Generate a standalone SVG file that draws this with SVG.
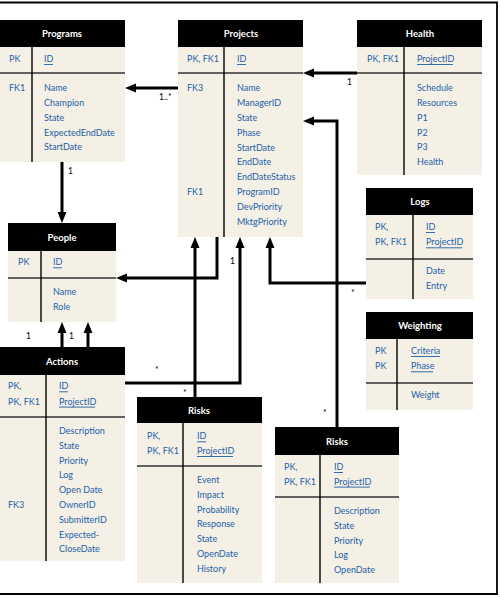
<svg xmlns="http://www.w3.org/2000/svg" width="500" height="597" viewBox="0 0 500 597">
<style>
.hd{fill:#000}
.bd{fill:#f4f0e5}
.hdt{font-family:Lato,"Liberation Sans",sans-serif;font-weight:bold;font-size:9.5px;fill:#fff;text-anchor:middle}
.t{font-family:Lato,"Liberation Sans",sans-serif;font-size:9px;fill:#1f5fa8}
.u{stroke:#1f5fa8;stroke-width:0.9}
.hr{stroke:#333;stroke-width:1.6}
.vr{stroke:#000;stroke-width:1.4}
.c{fill:none;stroke:#000;stroke-width:3}
.ca{fill:none;stroke:#000;stroke-width:3;marker-end:url(#ah)}
.lb{font-family:Lato,"Liberation Sans",sans-serif;font-size:8.5px;fill:#000}
</style>
<defs>
<marker id="ah" markerUnits="userSpaceOnUse" markerWidth="12" markerHeight="12" refX="0" refY="5" orient="auto" viewBox="0 0 12 10">
<path d="M0,0.5 L11,5 L0,9.5 z" fill="#000"/>
</marker>
</defs>
<rect x="0" y="0" width="500" height="597" fill="#fff"/>
<path d="M0,2.5 H497 V594 H0" fill="none" stroke="#000" stroke-width="1.8"/>

<g id="connectors">
<path class="ca" d="M178,88 H136"/>
<text class="lb" x="159" y="100">1..*</text>
<path class="ca" d="M357,73 H314"/>
<text class="lb" x="347" y="85">1</text>
<path class="ca" d="M62,162 V212"/>
<text class="lb" x="68" y="174">1</text>
<path class="ca" d="M366,283 H270 V248"/>
<text class="lb" x="351" y="296">*</text>
<path class="ca" d="M337,427 V121 H314"/>
<text class="lb" x="323" y="416">*</text>
<path class="ca" d="M217,237 V278 H127"/>
<path class="ca" d="M62,348 V333"/>
<path class="ca" d="M88,348 V333"/>
<text class="lb" x="26" y="339">1</text>
<text class="lb" x="69" y="339">1</text>
<path class="ca" d="M125,383 H240 V248"/>
<text class="lb" x="230" y="264">1</text>
<text class="lb" x="155" y="373">*</text>
<path class="ca" d="M195,397 V248"/>
<text class="lb" x="183" y="396">*</text>
</g>

<g id="programs">
<rect class="bd" x="0" y="47" width="125" height="115"/>
<rect class="hd" x="0" y="20" width="125" height="27"/>
<text class="hdt" x="62" y="37">Programs</text>
<line class="hr" x1="0" y1="73" x2="125" y2="73"/>
<line class="vr" x1="32" y1="47" x2="32" y2="162"/>
<text class="t" x="9" y="62">PK</text>
<text class="t" x="44" y="62">ID</text><line class="u" x1="44" y1="64.5" x2="53" y2="64.5"/>
<text class="t" x="9" y="91">FK1</text>
<text class="t" x="44" y="91">Name</text>
<text class="t" x="44" y="105.7">Champion</text>
<text class="t" x="44" y="120.6">State</text>
<text class="t" x="44" y="135.5">ExpectedEndDate</text>
<text class="t" x="44" y="150">StartDate</text>
</g>

<g id="projects">
<rect class="bd" x="178" y="47" width="125" height="190"/>
<rect class="hd" x="178" y="20" width="125" height="27"/>
<text class="hdt" x="241" y="37">Projects</text>
<line class="hr" x1="178" y1="73" x2="303" y2="73"/>
<line class="vr" x1="224" y1="47" x2="224" y2="237"/>
<text class="t" x="187" y="62">PK, FK1</text>
<text class="t" x="237" y="62">ID</text><line class="u" x1="237" y1="64.5" x2="246" y2="64.5"/>
<text class="t" x="187" y="91">FK3</text>
<text class="t" x="187" y="195">FK1</text>
<text class="t" x="237" y="91">Name</text>
<text class="t" x="237" y="106">ManagerID</text>
<text class="t" x="237" y="121">State</text>
<text class="t" x="237" y="135.8">Phase</text>
<text class="t" x="237" y="150.5">StartDate</text>
<text class="t" x="237" y="165.3">EndDate</text>
<text class="t" x="237" y="180.2">EndDateStatus</text>
<text class="t" x="237" y="195">ProgramID</text>
<text class="t" x="237" y="209.7">DevPriority</text>
<text class="t" x="237" y="224.6">MktgPriority</text>
</g>

<g id="health">
<rect class="bd" x="357" y="47" width="125" height="128"/>
<rect class="hd" x="357" y="20" width="125" height="27"/>
<text class="hdt" x="420" y="37">Health</text>
<line class="hr" x1="357" y1="73" x2="482" y2="73"/>
<line class="vr" x1="404" y1="47" x2="404" y2="175"/>
<text class="t" x="367" y="62">PK, FK1</text>
<text class="t" x="417" y="62">ProjectID</text><line class="u" x1="417" y1="64.5" x2="453" y2="64.5"/>
<text class="t" x="417" y="91">Schedule</text>
<text class="t" x="417" y="106">Resources</text>
<text class="t" x="417" y="121">P1</text>
<text class="t" x="417" y="135.6">P2</text>
<text class="t" x="417" y="150.3">P3</text>
<text class="t" x="417" y="165.3">Health</text>
</g>

<g id="logs">
<rect class="bd" x="366" y="215" width="107" height="84"/>
<rect class="hd" x="366" y="188" width="107" height="27"/>
<text class="hdt" x="420" y="205">Logs</text>
<line class="hr" x1="366" y1="259" x2="473" y2="259"/>
<line class="vr" x1="413" y1="215" x2="413" y2="299"/>
<text class="t" x="375" y="230">PK,</text>
<text class="t" x="375" y="245.3">PK, FK1</text>
<text class="t" x="426" y="230">ID</text><line class="u" x1="426" y1="232.5" x2="435" y2="232.5"/>
<text class="t" x="426" y="245.3">ProjectID</text><line class="u" x1="426" y1="247.8" x2="462" y2="247.8"/>
<text class="t" x="426" y="274">Date</text>
<text class="t" x="426" y="289.3">Entry</text>
</g>

<g id="weighting">
<rect class="bd" x="366" y="339" width="107" height="71"/>
<rect class="hd" x="366" y="312" width="107" height="27"/>
<text class="hdt" x="420" y="329">Weighting</text>
<line class="hr" x1="366" y1="383" x2="473" y2="383"/>
<line class="vr" x1="397" y1="339" x2="397" y2="410"/>
<text class="t" x="375" y="354">PK</text>
<text class="t" x="375" y="369.3">PK</text>
<text class="t" x="411" y="354">Criteria</text><line class="u" x1="411" y1="356.5" x2="440" y2="356.5"/>
<text class="t" x="411" y="369.3">Phase</text><line class="u" x1="411" y1="371.8" x2="433" y2="371.8"/>
<text class="t" x="411" y="398.3">Weight</text>
</g>

<g id="people">
<rect class="bd" x="8" y="251" width="108" height="71"/>
<rect class="hd" x="8" y="223" width="108" height="28"/>
<text class="hdt" x="62" y="240.5">People</text>
<line class="hr" x1="8" y1="278" x2="116" y2="278"/>
<line class="vr" x1="41" y1="251" x2="41" y2="322"/>
<text class="t" x="18" y="265.3">PK</text>
<text class="t" x="53" y="265.3">ID</text><line class="u" x1="53" y1="267.8" x2="62" y2="267.8"/>
<text class="t" x="53" y="295.3">Name</text>
<text class="t" x="53" y="310">Role</text>
</g>

<g id="actions">
<rect class="bd" x="0" y="375" width="125" height="186"/>
<rect class="hd" x="0" y="347" width="125" height="28"/>
<text class="hdt" x="62" y="364.5">Actions</text>
<line class="hr" x1="0" y1="417" x2="125" y2="417"/>
<line class="vr" x1="46" y1="375" x2="46" y2="561"/>
<text class="t" x="8" y="389.3">PK,</text>
<text class="t" x="8" y="404.6">PK, FK1</text>
<text class="t" x="59" y="389.3">ID</text><line class="u" x1="59" y1="391.8" x2="68" y2="391.8"/>
<text class="t" x="59" y="404.6">ProjectID</text><line class="u" x1="59" y1="407.1" x2="95" y2="407.1"/>
<text class="t" x="8" y="508.3">FK3</text>
<text class="t" x="59" y="434">Description</text>
<text class="t" x="59" y="449.3">State</text>
<text class="t" x="59" y="464.3">Priority</text>
<text class="t" x="59" y="478.3">Log</text>
<text class="t" x="59" y="493.3">Open Date</text>
<text class="t" x="59" y="508.3">OwnerID</text>
<text class="t" x="59" y="523">SubmitterID</text>
<text class="t" x="59" y="537.6">Expected-</text>
<text class="t" x="59" y="552">CloseDate</text>
</g>

<g id="risks1">
<rect class="bd" x="137" y="423" width="125" height="160"/>
<rect class="hd" x="137" y="397" width="125" height="26"/>
<text class="hdt" x="199" y="413.5">Risks</text>
<line class="hr" x1="137" y1="466" x2="262" y2="466"/>
<line class="vr" x1="183" y1="423" x2="183" y2="583"/>
<text class="t" x="147" y="439.3">PK,</text>
<text class="t" x="147" y="454">PK, FK1</text>
<text class="t" x="197" y="439.3">ID</text><line class="u" x1="197" y1="441.8" x2="206" y2="441.8"/>
<text class="t" x="197" y="454">ProjectID</text><line class="u" x1="197" y1="456.5" x2="233" y2="456.5"/>
<text class="t" x="197" y="482.6">Event</text>
<text class="t" x="197" y="498">Impact</text>
<text class="t" x="197" y="513">Probability</text>
<text class="t" x="197" y="527.3">Response</text>
<text class="t" x="197" y="542.3">State</text>
<text class="t" x="197" y="557.3">OpenDate</text>
<text class="t" x="197" y="571.6">History</text>
</g>

<g id="risks2">
<rect class="bd" x="275" y="455" width="124" height="128"/>
<rect class="hd" x="275" y="427" width="124" height="28"/>
<text class="hdt" x="337" y="444.5">Risks</text>
<line class="hr" x1="275" y1="497" x2="399" y2="497"/>
<line class="vr" x1="320" y1="455" x2="320" y2="583"/>
<text class="t" x="284" y="470">PK,</text>
<text class="t" x="284" y="484.6">PK, FK1</text>
<text class="t" x="334" y="470">ID</text><line class="u" x1="334" y1="472.5" x2="343" y2="472.5"/>
<text class="t" x="334" y="484.6">ProjectID</text><line class="u" x1="334" y1="487.1" x2="370" y2="487.1"/>
<text class="t" x="334" y="514">Description</text>
<text class="t" x="334" y="529">State</text>
<text class="t" x="334" y="544">Priority</text>
<text class="t" x="334" y="558.3">Log</text>
<text class="t" x="334" y="573.3">OpenDate</text>
</g>
</svg>
